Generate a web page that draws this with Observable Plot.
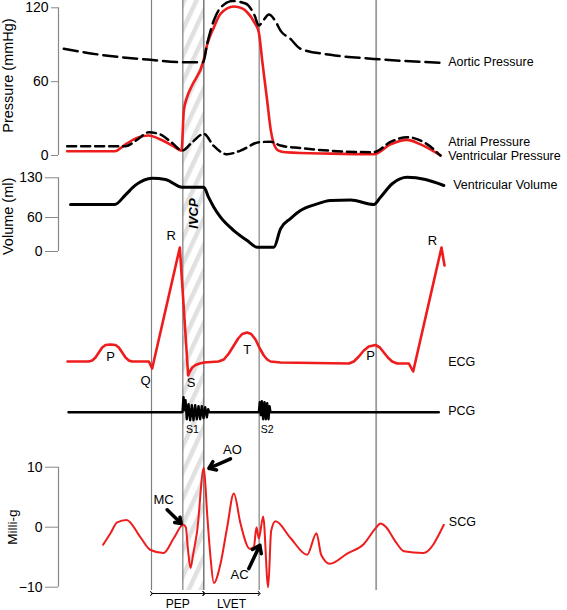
<!DOCTYPE html>
<html><head><meta charset="utf-8">
<script src="https://cdn.jsdelivr.net/npm/d3@7"></script>
<script src="https://cdn.jsdelivr.net/npm/@observablehq/plot@0.6"></script>
<style>
body{margin:0;background:#fff}
#chart{position:relative;width:567px;height:610px}
#chart svg{position:absolute;left:0;top:0}
</style>
</head><body><div id="chart"></div>
<script>
// ---- data (time in ms) ----
const eventLines = [273, 367, 430, 596, 947];
const ivcp = [{start: 367, end: 430}];
const aortic = [[10,86.7],[120,81.8],[270,77.7],[365,75.8],[428,75.8],[440,90.8],[460,109.7],[480,120],[516,125.5],[555,123.5],[582,114],[595,105.6],[609,110],[625,114.5],[645,109],[660,101.5],[690,94.7],[720,86.7],[810,81.8],[940,78.5],[1140,75.3]];
const atrial = [[20,7.6],[195,7.6],[231,13],[265,18.9],[300,17],[336,10],[365,4],[396,11],[430,17.6],[459,8],[500,1],[540,4],[596,10.8],[630,11.2],[660,8.1],[720,6],[940,2.7],[990,11],[1040,14.9],[1095,10],[1140,0]];
const ventricular = [[20,3.5],[163,3.5],[195,9],[231,14.5],[264,16.2],[300,13],[336,8],[363,4],[370,36.5],[378,46],[395,57],[428,75.8],[440,90],[460,104],[480,115],[520,121],[545,119.5],[560,116.4],[582,108],[595,100],[606,75],[620,44.7],[630,22],[640,9.5],[654,4],[675,2.7],[810,1.5],[940,1],[990,9],[1040,12.7],[1080,9],[1140,0]];
const volume = [[30,82.9],[163,82.9],[195,100],[225,117],[275,129.3],[315,127],[365,113.4],[430,113.4],[444,95.8],[460,78.1],[480,60.5],[520,37],[560,19.4],[590,7.6],[640,7.6],[660,40],[690,58],[720,72.3],[765,83],[810,90],[870,91],[940,82.9],[960,95.8],[996,120],[1040,131],[1095,127],[1150,116.4]];
const ecg = [[21,0],[84,0],[95,0.01],[105,0.04],[115,0.09],[125,0.14],[135,0.165],[150,0.17],[165,0.165],[175,0.14],[185,0.09],[195,0.04],[205,0.01],[215,0],[265,0],[275,-0.07],[358,1.14],[383,-0.14],[388,-0.10],[395,-0.06],[405,-0.035],[418,-0.02],[430,-0.01],[474,0],[490,0.02],[505,0.08],[520,0.16],[533,0.23],[545,0.275],[560,0.29],[572,0.275],[585,0.22],[598,0.13],[610,0.06],[620,0.02],[630,0],[660,-0.01],[865,-0.02],[880,0],[895,0.05],[910,0.11],[925,0.15],[945,0.165],[958,0.14],[970,0.09],[982,0.04],[995,0],[1010,-0.02],[1045,-0.02],[1058,-0.10],[1143,1.14],[1152,0.96]];
const pcg = [[24,0],[366,0],[369,15],[372,2],[375,12],[379,-7],[384,8],[389,-8],[394,7],[399,-8],[404,7],[409,-7],[414,6],[419,-7],[424,6],[429,-6],[434,5],[439,-5],[443,3],[446,0],[595,0],[598,10],[601,-3],[604,11],[608,-7],[612,10],[616,-7],[620,9],[624,-7],[627,6],[630,0],[1135,0]];
const scg = [[128,-2.9],[150,-1.0],[170,0.8],[198,1.2],[240,-1.7],[270,-3.8],[309,-4.3],[340,-1.8],[368,0.4],[376,0.0],[382,-3.5],[390,-6.8],[398,-4.5],[410,-0.6],[430,9.9],[440,2.2],[450,-5],[460,-9.3],[480,-6.1],[500,0],[520,5.6],[540,0.6],[568,-3.6],[580,-3.3],[588,0.0],[595,-1.9],[608,1.8],[623,-10],[632,-0.6],[645,1.0],[690,-1.8],[740,-4.6],[768,-1.0],[782,-4.6],[808,-6.1],[860,-4.4],[910,-2.8],[945,-0.2],[960,0.6],[975,0.1],[1005,-2.4],[1030,-4.0],[1088,-4.3],[1150,0.4]];
const pressureTicks = [0, 60, 120];
const volumeTicks = [0, 60, 130];
const scgTicks = [-10, 0, 10];
const ecgWaves = [{t:150,v:0.05,s:"P"},{t:255,v:-0.19,s:"Q"},{t:332,v:1.26,s:"R"},{t:392,v:-0.21,s:"S"},{t:560,v:0.12,s:"T"},{t:930,v:0.06,s:"P"},{t:1116,v:1.21,s:"R"}];
const pcgSounds = [{t:396,v:-17,s:"S1"},{t:620,v:-17,s:"S2"}];
const pressureLabels = [{t:1163,v:76,s:"Aortic Pressure"},{t:1163,v:10.8,s:"Atrial Pressure"},{t:1163,v:-0.6,s:"Ventricular Pressure"}];
const intervals = [{a:273,b:430,s:"PEP"},{a:430,b:596,s:"LVET"}];
const scgEvents = [
  {s:"MC",tx:309,vx:4.6,t1:320,v1:2.9,t2:362,v2:0.6},
  {s:"AO",tx:516,vx:12.9,t1:510,v1:11.4,t2:445,v2:9.8},
  {s:"AC",tx:537,vx:-7.9,t1:565,v1:-6.9,t2:598,v2:-3.0}
];

// ---- layout ----
const W = 567, H = 610;
const X = {domain:[0,1500], range:[60,560]};
const axisT = -6;    // time position of the y-axis lines
const labelT = -156; // time position of the y-axis titles
const FONT = "'Liberation Sans', Arial, Helvetica, sans-serif";
const RED = "#ee1c1c";
const LBL = 12.5;
const TICK = 14;
const chart = document.getElementById("chart");
const P = a => a.map(([t,v]) => ({t, v}));

function panel(y, marks) {
  const svg = Plot.plot({
    width: W, height: H, marginLeft: 58, marginRight: 0, marginTop: 0, marginBottom: 20,
    x: {...X, axis: null},
    y: y ? {...y, axis: null} : {axis: null},
    style: {fontFamily: FONT, fontSize: "13px", background: "transparent", color: "#000", overflow: "visible"},
    marks
  });
  chart.append(svg);
  return svg;
}

// frame: event lines + IVCP hatch
const frame = panel(null, [
  Plot.rect(ivcp, {x1: "start", x2: "end", fill: "url(#hatch)"}),
  Plot.ruleX(eventLines, {stroke: (d) => d === 947 ? "#9a9a9a" : (d === 430 ? "#555" : "#808080"), strokeWidth: (d) => d === 947 ? 1.8 : 1.2})
]);
frame.insertAdjacentHTML("afterbegin",
  '<defs><pattern id="hatch" width="11" height="11" patternUnits="userSpaceOnUse" patternTransform="rotate(25)">' +
  '<rect width="11" height="11" fill="#ffffff"/><rect width="4.5" height="11" fill="#e0e0e0"/></pattern></defs>');

// pressure
panel({domain:[0,120], range:[155,7.3]}, [
  Plot.ruleX([axisT], {y1: 0, y2: 120, stroke: "#888", strokeWidth: 1.2}),
  Plot.axisY({ticks: pressureTicks, tickSize: 7, tickPadding: 3, stroke: "#888", fontSize: TICK, label: null}),
  Plot.text(["Pressure (mmHg)"], {x: labelT, y: 65, rotate: -90, fontSize: 14.5}),
  Plot.line(P(ventricular), {x: "t", y: "v", stroke: RED, strokeWidth: 2.6, curve: "monotone-x"}),
  Plot.line(P(atrial), {x: "t", y: "v", stroke: "#000", strokeWidth: 2.5, strokeDasharray: "9,5", curve: "monotone-x"}),
  Plot.line(P(aortic), {x: "t", y: "v", stroke: "#000", strokeWidth: 2.5, strokeDasharray: "14,6", curve: "monotone-x"}),
  Plot.text(pressureLabels, {x: "t", y: "v", text: "s", textAnchor: "start", fontSize: LBL})
]);

// volume
panel({domain:[0,130], range:[251,177.3]}, [
  Plot.ruleX([axisT], {y1: 0, y2: 130, stroke: "#888", strokeWidth: 1.2}),
  Plot.axisY({ticks: volumeTicks, tickSize: 13, tickPadding: 3, stroke: "#888", fontSize: TICK, label: null}),
  Plot.text(["Volume (ml)"], {x: labelT, y: 62, rotate: -90, fontSize: 14.5}),
  Plot.line(P(volume), {x: "t", y: "v", stroke: "#000", strokeWidth: 3, curve: "monotone-x"}),
  Plot.text(["Ventricular Volume"], {x: 1178, y: 118, textAnchor: "start", fontSize: LBL}),
  Plot.text(["IVCP"], {x: 399, y: 67, rotate: -90, fontWeight: "bold", fontStyle: "italic", fontSize: 13})
]);

// ECG
panel({domain:[0,1], range:[361,261]}, [
  Plot.line(P(ecg), {x: "t", y: "v", stroke: RED, strokeWidth: 2.6, strokeLinejoin: "round"}),
  Plot.text(ecgWaves, {x: "t", y: "v", text: "s", fontSize: 13}),
  Plot.text(["ECG"], {x: 1163, y: 0, textAnchor: "start", fontSize: LBL})
]);

// PCG
panel({domain:[-20,20], range:[431.7,391.7]}, [
  Plot.line(P(pcg), {x: "t", y: "v", stroke: "#000", strokeWidth: 2.4}),
  Plot.text(pcgSounds, {x: "t", y: "v", text: "s", fontSize: 10.5}),
  Plot.text(["PCG"], {x: 1163, y: 1, textAnchor: "start", fontSize: LBL})
]);

// SCG
panel({domain:[-10,10], range:[586.7,466.7]}, [
  Plot.ruleX([axisT], {y1: -10, y2: 10, stroke: "#888", strokeWidth: 1.2}),
  Plot.axisY({ticks: scgTicks, tickSize: 13, tickPadding: 3, stroke: "#888", fontSize: TICK, label: null}),
  Plot.text(["Milli-g"], {x: -144, y: 0, rotate: -90, fontSize: 13.5}),
  Plot.line(P(scg), {x: "t", y: "v", stroke: RED, strokeWidth: 2, curve: "monotone-x"}),
  Plot.text(["SCG"], {x: 1165, y: 0.8, textAnchor: "start", fontSize: LBL}),
  Plot.arrow(scgEvents, {x1: "t1", y1: "v1", x2: "t2", y2: "v2", stroke: "#000", strokeWidth: 3.5, headLength: 9, headAngle: 70}),
  Plot.text(scgEvents, {x: "tx", y: "vx", text: "s", fontSize: 13}),
  Plot.link(intervals, {x1: "a", x2: "b", y1: () => -11.05, y2: () => -11.05, stroke: "#000", strokeWidth: 1, markerStart: "arrow", markerEnd: "arrow"}),
  Plot.text(intervals, {x: (d) => (d.a + d.b) / 2, y: () => -12.9, text: "s", fontSize: 12})
]);
</script>
</body></html>
